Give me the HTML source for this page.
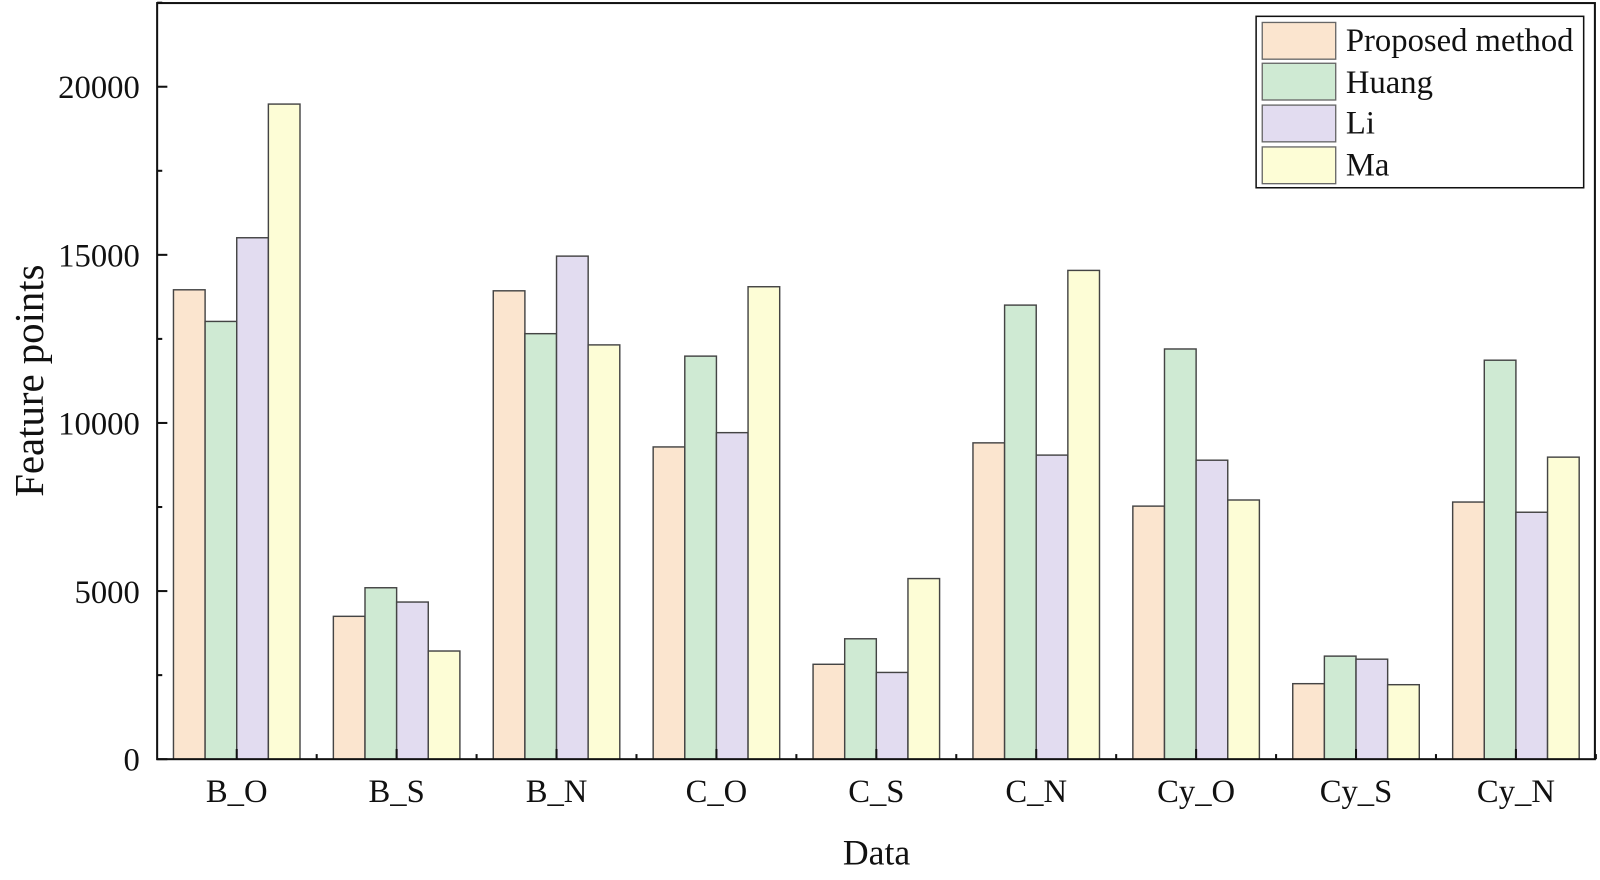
<!DOCTYPE html>
<html><head><style>html,body{margin:0;padding:0;background:#fff;}svg{display:block;}</style></head>
<body>
<svg width="1600" height="880" viewBox="0 0 1568 862.4" xmlns="http://www.w3.org/2000/svg" font-family="'Liberation Serif',serif" fill="#111">
<rect width="1568" height="862.4" fill="#fff"/>
<g id="bars" stroke="#444" stroke-width="1.4"></g>
<rect x="154" y="3" width="1409" height="741" fill="none" stroke="#111" stroke-width="2"/>
<g id="ticks" stroke="#111" stroke-width="2"></g>
<g font-size="32" text-anchor="end">
<text x="137" y="755">0</text>
<text x="137" y="591">5000</text>
<text x="137" y="426">10000</text>
<text x="137" y="261">15000</text>
<text x="137" y="96">20000</text>
</g>
<g id="xl" font-size="32" text-anchor="middle"></g>
<text x="859" y="847" font-size="35" text-anchor="middle">Data</text>
<text transform="translate(30,373) rotate(-90)" font-size="40" text-anchor="middle" dy="0.3em">Feature points</text>
<rect x="1231" y="16" width="321" height="168" fill="#fff" stroke="#111" stroke-width="1.5"/>
<g stroke="#666" stroke-width="1.3">
<rect x="1237" y="22" width="72" height="36" fill="#fbe5cf"/>
<rect x="1237" y="62" width="72" height="36" fill="#cfead3"/>
<rect x="1237" y="103" width="72" height="36" fill="#e2dcf0"/>
<rect x="1237" y="144" width="72" height="36" fill="#fdfdd6"/>
</g>
<g font-size="32">
<text x="1319" y="50">Proposed method</text>
<text x="1319" y="91">Huang</text>
<text x="1319" y="131">Li</text>
<text x="1319" y="172">Ma</text>
</g>
<script>
var tops=[[284,315,233,102],[604,576,590,638],[285,327,251,338],[438,349,424,281],[651,626,659,567],[434,299,446,265],[496,342,451,490],[670,643,646,671],[492,353,502,448]];
var cols=["#fbe5cf","#cfead3","#e2dcf0","#fdfdd6"];
var names=["B_O","B_S","B_N","C_O","C_S","C_N","Cy_O","Cy_S","Cy_N"];
var ns="http://www.w3.org/2000/svg";
var g=document.getElementById("bars"),t=document.getElementById("ticks"),xl=document.getElementById("xl");
function el(p,n,a){var e=document.createElementNS(ns,n);for(var k in a)e.setAttribute(k,a[k]);p.appendChild(e);return e;}
for(var i=0;i<9;i++){var c=232+156.7*i;
for(var j=0;j<4;j++){var x=c-62+31*j;el(g,"rect",{x:x,y:tops[i][j],width:31,height:744-tops[i][j],fill:cols[j]});}
el(t,"line",{x1:c,y1:744,x2:c,y2:734});
el(t,"line",{x1:c+78.35,y1:744,x2:c+78.35,y2:739});
var tx=el(xl,"text",{x:c,y:786});tx.textContent=names[i];}
for(var v=0;v<=22500;v+=2500){var y=744-v*659/20000;var L=(v%5000==0)?10:5;el(t,"line",{x1:154,y1:y,x2:154+L,y2:y});}
</script>
</svg>
</body></html>
